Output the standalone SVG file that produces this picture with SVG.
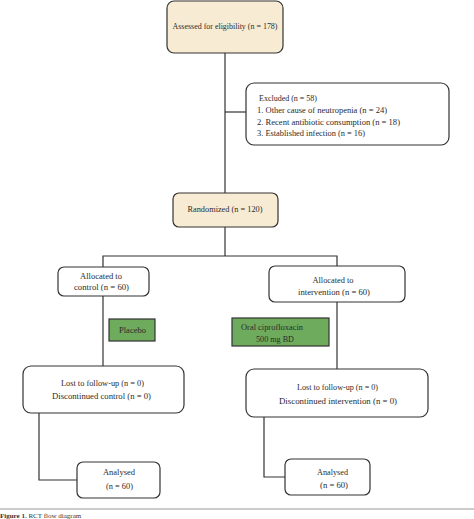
<svg xmlns="http://www.w3.org/2000/svg" width="474" height="519" viewBox="0 0 474 519">
<style>
.box{fill:#ffffff;stroke:#333333;stroke-width:1.2}
.cream{fill:#f7ecd3;stroke:#333333;stroke-width:1.2}
.green{fill:#6fab5c;stroke:#333333;stroke-width:1.2}
.ln{fill:none;stroke:#333333;stroke-width:1.2}
text{font-family:"Liberation Serif","DejaVu Serif",serif;font-size:9.2px;fill:#2b2b2b}
.c{text-anchor:middle}
.cap{font-size:7px;fill:#333333}
</style>
<rect width="474" height="519" fill="#ffffff"/>
<g id="connectors">
<path class="ln" d="M225 53 V193"/>
<path class="ln" d="M225 112 H246"/>
<path class="ln" d="M225 227 V256"/>
<path class="ln" d="M103 267 V256 H337 V266"/>
<path class="ln" d="M103 296 V366"/>
<path class="ln" d="M337 302 V369"/>
<path class="ln" d="M39 413 V480 H77"/>
<path class="ln" d="M264 417 V477 H285"/>
</g>
<g id="assessed">
<rect class="cream" x="167" y="1" width="116" height="52" rx="7"/>
<text class="c" x="225" y="29" textLength="105" lengthAdjust="spacingAndGlyphs">Assessed for eligibility (n = 178)</text>
</g>
<g id="excluded">
<rect class="box" x="246" y="83" width="203" height="62" rx="8"/>
<text x="259" y="101" textLength="58" lengthAdjust="spacingAndGlyphs">Excluded (n = 58)</text>
<text x="257" y="113" textLength="130" lengthAdjust="spacingAndGlyphs">1. Other cause of neutropenia (n = 24)</text>
<text x="257" y="125" textLength="143" lengthAdjust="spacingAndGlyphs">2. Recent antibiotic consumption (n = 18)</text>
<text x="257" y="136" textLength="108" lengthAdjust="spacingAndGlyphs">3. Established infection (n = 16)</text>
</g>
<g id="randomized">
<rect class="cream" x="173" y="193" width="105" height="34" rx="6"/>
<text class="c" x="225" y="212" textLength="75" lengthAdjust="spacingAndGlyphs">Randomized (n = 120)</text>
</g>
<g id="alloc-control">
<rect class="box" x="58" y="267" width="91" height="29" rx="6"/>
<text class="c" x="101" y="279" textLength="42" lengthAdjust="spacingAndGlyphs">Allocated to</text>
<text class="c" x="101.5" y="290" textLength="55" lengthAdjust="spacingAndGlyphs">control (n = 60)</text>
</g>
<g id="alloc-intervention">
<rect class="box" x="269" y="266" width="136" height="36" rx="6"/>
<text class="c" x="333" y="283" textLength="41" lengthAdjust="spacingAndGlyphs">Allocated to</text>
<text class="c" x="334" y="295" textLength="72" lengthAdjust="spacingAndGlyphs">intervention (n = 60)</text>
</g>
<g id="placebo">
<rect class="green" x="109" y="319" width="46" height="22"/>
<text class="c" x="132.5" y="333" textLength="27" lengthAdjust="spacingAndGlyphs">Placebo</text>
</g>
<g id="cipro">
<rect class="green" x="232" y="318" width="97" height="28"/>
<text x="241" y="330" textLength="62" lengthAdjust="spacingAndGlyphs">Oral ciprofloxacin</text>
<text x="256" y="342" textLength="38" lengthAdjust="spacingAndGlyphs">500 mg BD</text>
</g>
<g id="lost-control">
<rect class="box" x="23" y="366" width="161" height="47" rx="8"/>
<text class="c" x="102.5" y="386" textLength="83" lengthAdjust="spacingAndGlyphs">Lost to follow-up (n = 0)</text>
<text class="c" x="101.5" y="399" textLength="99" lengthAdjust="spacingAndGlyphs">Discontinued control (n = 0)</text>
</g>
<g id="lost-intervention">
<rect class="box" x="246" y="369" width="182" height="48" rx="8"/>
<text class="c" x="337.5" y="390" textLength="81" lengthAdjust="spacingAndGlyphs">Lost to follow-up (n = 0)</text>
<text class="c" x="338" y="404" textLength="118" lengthAdjust="spacingAndGlyphs">Discontinued intervention (n = 0)</text>
</g>
<g id="analysed-control">
<rect class="box" x="77" y="462" width="83" height="36" rx="6"/>
<text class="c" x="119" y="475" textLength="32" lengthAdjust="spacingAndGlyphs">Analysed</text>
<text class="c" x="119.5" y="489" textLength="27" lengthAdjust="spacingAndGlyphs">(n = 60)</text>
</g>
<g id="analysed-intervention">
<rect class="box" x="285" y="459" width="85" height="36" rx="6"/>
<text class="c" x="332.5" y="475" textLength="31" lengthAdjust="spacingAndGlyphs">Analysed</text>
<text class="c" x="334" y="488" textLength="28" lengthAdjust="spacingAndGlyphs">(n = 60)</text>
</g>
<g id="caption">
<line x1="0" y1="509" x2="474" y2="509" stroke="#999999" stroke-width="1"/>
<text class="cap" x="0" y="518"><tspan font-weight="bold">Figure 1.</tspan> RCT flow diagram</text>
</g>
</svg>
